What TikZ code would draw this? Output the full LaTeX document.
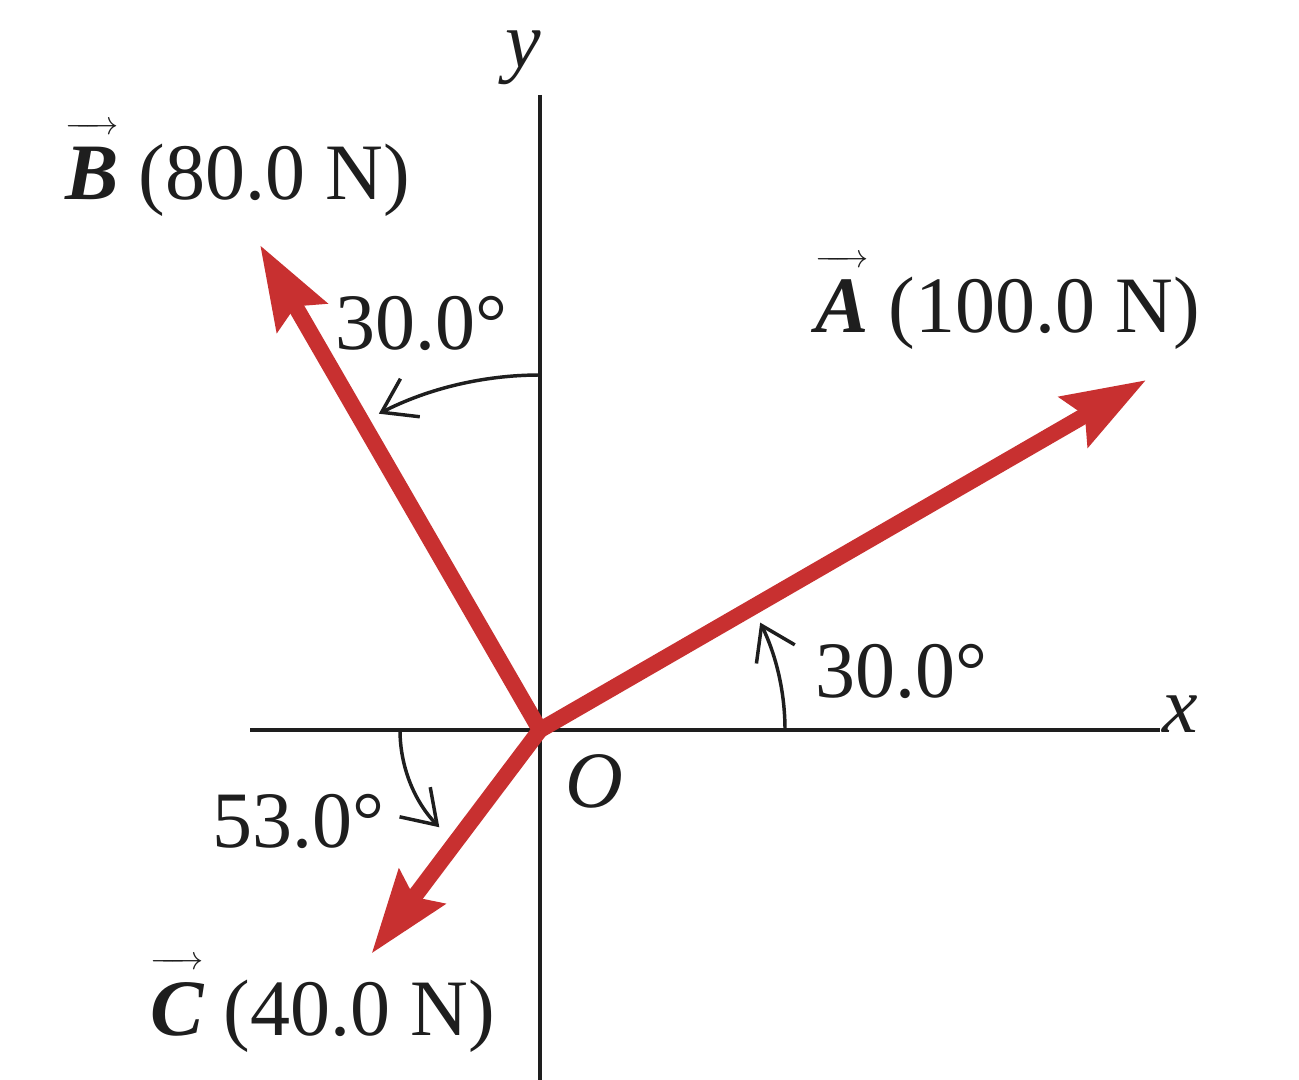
\documentclass[tikz,border=0pt]{standalone}
\usepackage{fontspec}
\setmainfont{Liberation Serif}
\usetikzlibrary{arrows.meta}
\definecolor{vecred}{RGB}{200,48,48}
\definecolor{inkgray}{RGB}{30,30,30}
\tikzset{every picture/.style={line width=0.75pt}}
\tikzset{
  forcevec/.style={draw=vecred, line width=12pt, -{Stealth[length=62pt,width=42pt,inset=9pt]}},
  axisline/.style={draw=inkgray, line width=2.8pt},
  anglearrow/.style={draw=inkgray, line width=2.6pt, -{Straight Barb[length=24pt,width=32pt]}},
  lbl/.style={inner sep=0pt, anchor=base west, text=inkgray, font=\fontsize{60}{72}\selectfont},
}
\newcommand{\vecsym}[1]{$\overrightarrow{\mbox{\bfseries\itshape #1\rule{0pt}{50pt}}}$}

\begin{document}
\begin{tikzpicture}[x=0.75pt,y=0.75pt,yscale=-1,xscale=1]
\useasboundingbox[fill=white] (0,0) rectangle (1299,1080);

%Origin and ends
\coordinate (O) at (540,730);
\coordinate (ytop) at (540,95);
\coordinate (ybot) at (540,1080);
\coordinate (xleft) at (250,730);
\coordinate (xright) at (1160,730);
\coordinate (Atip) at ([shift={(-30:700)}]O);
\coordinate (Btip) at ([shift={(-120:560)}]O);
\coordinate (Ctip) at ([shift={(127:280)}]O);

%Straight Lines (axes)
\draw[axisline] (ytop) -- (ybot);
\draw[axisline] (xleft) -- (xright);

%Force vectors
\draw[forcevec] (O) -- (Btip);
\draw[forcevec] (O) -- (Ctip);
\draw[forcevec] (O) -- (Atip);

%Angle arcs
\draw[anglearrow] ([shift={(0:245)}]O) arc[start angle=0, end angle=-26, radius=245];
\draw[anglearrow] ([shift={(-90:355)}]O) arc[start angle=-90, end angle=-117, radius=355];
\draw[anglearrow] ([shift={(180:140)}]O) arc[start angle=180, end angle=136, radius=140];

% Text Node
\node[lbl] (ylbl) at (505,68) {\textit{y}};
% Text Node
\node[lbl] (xlbl) at (1162,732) {\textit{x}};
% Text Node
\node[lbl] (Olbl) at (565,807) {\textit{O}};
% Text Node
\node[lbl] (Blbl) at (65,200) {\vecsym{B} (80.0 N)};
% Text Node
\node[lbl] (Albl) at (815,333) {\vecsym{A} (100.0 N)};
% Text Node
\node[lbl] (Clbl) at (150,1035) {\vecsym{C} (40.0 N)};
% Text Node
\node[lbl] (angB) at (335,350) {30.0°};
% Text Node
\node[lbl] (angA) at (815,697) {30.0°};
% Text Node
\node[lbl] (angC) at (212,847) {53.0°};

\end{tikzpicture}
\end{document}
